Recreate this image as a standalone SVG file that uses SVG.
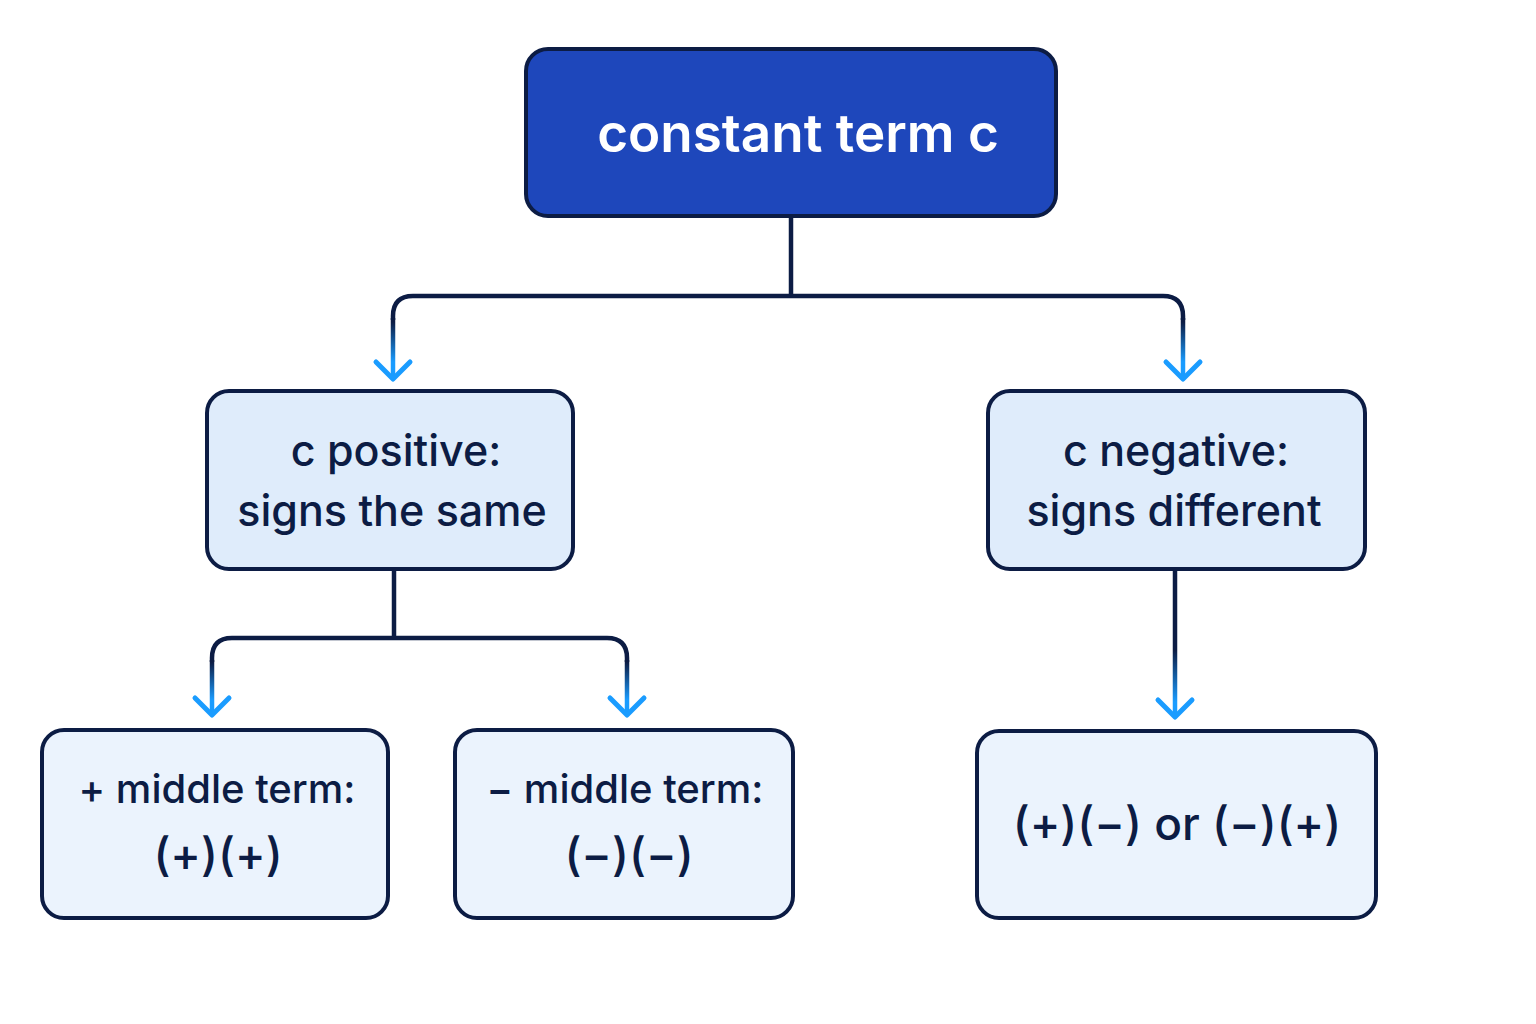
<svg xmlns="http://www.w3.org/2000/svg" width="1536" height="1024" viewBox="0 0 1536 1024">
<defs>
<style>
.node{fill:#dfecfb;stroke:#0c1c44;stroke-width:4}
.leaf{fill:#ebf3fd;stroke:#0c1c44;stroke-width:4}
.root{fill:#1e47bb;stroke:#0c1c44;stroke-width:4}
.t{font-family:Inter,"Noto Sans","Liberation Sans",sans-serif;font-weight:500;font-size:40px;fill:#0c1c44;text-anchor:middle}
.m{font-size:43px}
.f{font-size:46px}
.rt{font-family:Inter,"Noto Sans","Liberation Sans",sans-serif;font-weight:600;font-size:53px;fill:#ffffff;text-anchor:middle}
.c{fill:none;stroke:#0c1c44;stroke-width:4.5;stroke-linejoin:round}
.a{fill:none;stroke:#1a9cff;stroke-width:5;stroke-linecap:round;stroke-linejoin:round}
</style>
<linearGradient id="g1" gradientUnits="userSpaceOnUse" x1="0" y1="322" x2="0" y2="362"><stop offset="0" stop-color="#0c1c44"/><stop offset="1" stop-color="#1a9cff"/></linearGradient>
<linearGradient id="g2" gradientUnits="userSpaceOnUse" x1="0" y1="662" x2="0" y2="700"><stop offset="0" stop-color="#0c1c44"/><stop offset="1" stop-color="#1a9cff"/></linearGradient>
<linearGradient id="g3" gradientUnits="userSpaceOnUse" x1="0" y1="650" x2="0" y2="702"><stop offset="0" stop-color="#0c1c44"/><stop offset="1" stop-color="#1a9cff"/></linearGradient>
</defs>
<rect width="1536" height="1024" fill="#ffffff"/>
<g id="connectors">
<path class="c" d="M791 216 V296"/>
<path class="c" d="M1183 320 V316 Q1183 296 1163 296 H413 Q393 296 393 316 V320"/>
<path d="M393 318 V378" stroke="url(#g1)" stroke-width="4.5" fill="none"/>
<path d="M1183 318 V378" stroke="url(#g1)" stroke-width="4.5" fill="none"/>
<polyline class="a" points="376,362 393,379 410,362"/>
<polyline class="a" points="1166,362 1183,379 1200,362"/>
<path class="c" d="M394 569 V638"/>
<path class="c" d="M627 662 V658 Q627 638 607 638 H232 Q212 638 212 658 V662"/>
<path d="M212 660 V714" stroke="url(#g2)" stroke-width="4.5" fill="none"/>
<path d="M627 660 V714" stroke="url(#g2)" stroke-width="4.5" fill="none"/>
<polyline class="a" points="195,698 212,715 229,698"/>
<polyline class="a" points="610,698 627,715 644,698"/>
<path d="M1175 569 V716" stroke="url(#g3)" stroke-width="4.5" fill="none"/>
<polyline class="a" points="1158,700 1175,717 1192,700"/>
</g>
<g id="root">
<rect class="root" x="526" y="49" width="530" height="167" rx="22"/>
<text class="rt" x="798" y="152">constant term c</text>
</g>
<g id="c-positive">
<rect class="node" x="207" y="391" width="366" height="178" rx="22"/>
<text class="t m" x="396" y="466">c positive:</text>
<text class="t m" x="392" y="526">signs the same</text>
</g>
<g id="c-negative">
<rect class="node" x="988" y="391" width="377" height="178" rx="22"/>
<text class="t m" x="1176" y="466">c negative:</text>
<text class="t m" x="1174" y="526">signs different</text>
</g>
<g id="plus-middle">
<rect class="leaf" x="42" y="730" width="346" height="188" rx="22"/>
<text class="t" x="217" y="803">+ middle term:</text>
<text class="t f" x="218" y="871">(+)(+)</text>
</g>
<g id="minus-middle">
<rect class="leaf" x="455" y="730" width="338" height="188" rx="22"/>
<text class="t" x="625" y="803">− middle term:</text>
<text class="t f" x="629" y="871">(−)(−)</text>
</g>
<g id="mixed">
<rect class="leaf" x="977" y="731" width="399" height="187" rx="22"/>
<text class="t f" x="1177" y="840">(+)(−) or (−)(+)</text>
</g>
</svg>
